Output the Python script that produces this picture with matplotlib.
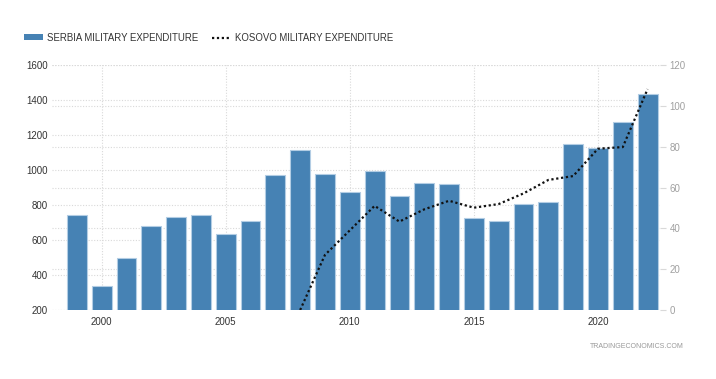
import matplotlib
matplotlib.use("Agg")
import matplotlib.pyplot as plt
from matplotlib.lines import Line2D
from matplotlib.patches import Patch
import matplotlib.transforms as mtrans

plt.rcParams['font.family'] = ['Liberation Sans', 'DejaVu Sans']

years = list(range(1999, 2023))
serbia = [743, 337, 495, 682, 731, 741, 632, 707, 971, 1114, 977, 874,
          992, 853, 924, 918, 724, 710, 804, 819, 1149, 1126, 1274, 1432]
kosovo_years = list(range(2008, 2023))
kosovo = [0, 27, 39, 51, 43.3, 49.3, 53.5, 50.1, 51.9, 57.1, 63.7, 65.6, 79, 79.8, 108.2]

left_ticks = [200, 400, 600, 800, 1000, 1200, 1400, 1600]
right_ticks = [0, 20, 40, 60, 80, 100, 120]
x_ticks = [2000, 2005, 2010, 2015, 2020]

W, H = 716, 379
fig = plt.figure(figsize=(W / 100, H / 100), dpi=100)
ax = fig.add_axes([52 / W, 1 - 310 / H, (660 - 52) / W, (310 - 65) / H])
ax2 = ax.twinx()

grid_kw = dict(color='#d9d9d9', linewidth=0.8, linestyle=(0, (1, 1.5)), zorder=0)

ax.bar(years, serbia, width=0.8, color='#4682b4', edgecolor='#b3cde4',
       linewidth=0.8, zorder=2, bottom=0)
ax.set_ylim(200, 1600)
ax.set_xlim(1998.0, 2022.5)
ax.set_yticks(left_ticks)
ax.set_xticks(x_ticks)
ax.set_xticklabels([str(t) for t in x_ticks])

for t in left_ticks:
    ax.axhline(t, **grid_kw)
for t in x_ticks:
    ax.axvline(t, **grid_kw)

ax2.set_ylim(0, 120)
ax2.set_yticks(right_ticks)
blend = mtrans.blended_transform_factory(ax.transAxes, ax2.transData)
for t in right_ticks:
    ax.add_line(Line2D([0, 1], [t, t], transform=blend, **grid_kw))

ax2.plot(kosovo_years, kosovo, color='#111111', linewidth=1.6,
         linestyle=(0, (1, 1.2)), zorder=3)

for a in (ax, ax2):
    for s in a.spines.values():
        s.set_visible(False)

ax.tick_params(axis='y', length=0, labelsize=7, labelcolor='#333333', pad=3)
ax.tick_params(axis='x', length=0, labelsize=7, labelcolor='#333333', pad=5)
ax2.tick_params(axis='y', length=4, color='#d9d9d9', labelsize=7,
                labelcolor='#a0a0a0', pad=3)
ax.set_axisbelow(True)

handles = [Patch(facecolor='#4682b4', edgecolor='none'),
           Line2D([0], [0], color='#111111', linewidth=1.6, linestyle=(0, (1, 1.2)))]
fig.legend(handles, ['SERBIA MILITARY EXPENDITURE', 'KOSOVO MILITARY EXPENDITURE'],
           loc='upper left', bbox_to_anchor=(15 / W, 1 - 24 / H), ncol=2,
           frameon=False, fontsize=6.9, handlelength=2.0, handleheight=0.5,
           handletextpad=0.4, columnspacing=1.5, labelcolor='#333333')

fig.text(684 / W, 1 - 347 / H, 'TRADINGECONOMICS.COM', ha='right', va='center',
         fontsize=5.0, color='#999999')

fig.savefig('out.png', dpi=100)
